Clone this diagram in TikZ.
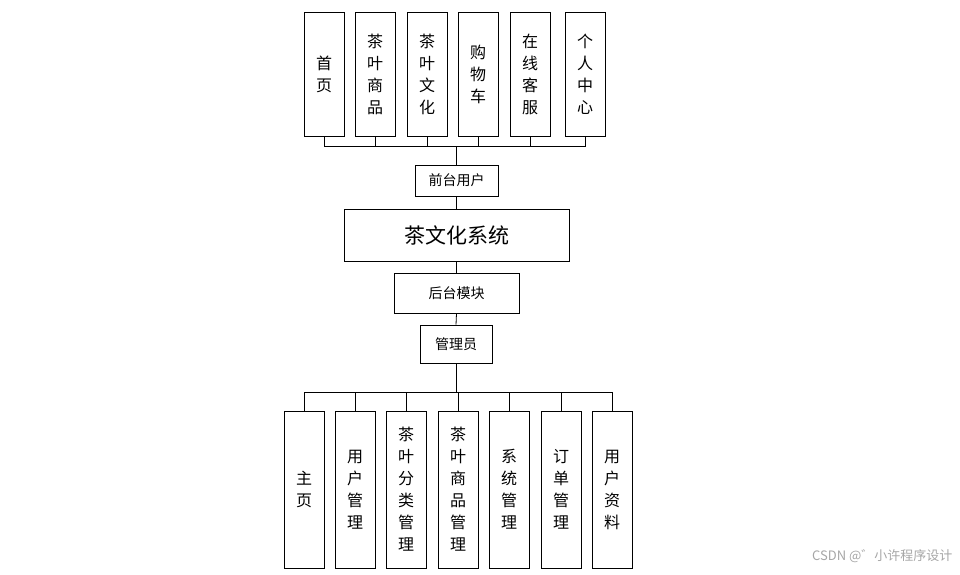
\documentclass[tikz,border=0pt]{standalone}
\usepackage{fontspec}
\newfontfamily\cjk{Noto Sans CJK SC}
\begin{document}
\begin{tikzpicture}[x=1pt,y=-1pt,
  box/.style={draw,line width=0.8pt,inner sep=0pt,font=\cjk\fontsize{16}{22}\selectfont,align=center},
  ln/.style={line width=0.8pt}]
\useasboundingbox (0,0) rectangle (960,574);
% top boxes
\foreach \n/\x/\t in {t1/324/首\\页, t2/375/茶\\叶\\商\\品, t3/427/茶\\叶\\文\\化, t4/478/购\\物\\车, t5/530/在\\线\\客\\服, t6/585/个\\人\\中\\心}{
  \node[box,minimum width=40pt,minimum height=124pt] (\n) at (\x,74) {\t};
}
\node[box,minimum width=83pt,minimum height=31pt,font=\cjk\fontsize{14}{16}\selectfont] (fu) at (456.5,180.5) {前台用户};
\node[box,minimum width=225pt,minimum height=52pt,font=\cjk\fontsize{21}{24}\selectfont] (sys) at (456.5,235) {茶文化系统};
\node[box,minimum width=125pt,minimum height=40pt,font=\cjk\fontsize{14}{16}\selectfont] (hm) at (456.5,293) {后台模块};
\node[box,minimum width=72pt,minimum height=38pt,font=\cjk\fontsize{14}{16}\selectfont] (ad) at (456,344) {管理员};
\foreach \n/\x/\t in {b1/304/主\\页, b2/355/用\\户\\管\\理, b3/406/茶\\叶\\分\\类\\管\\理, b4/458/茶\\叶\\商\\品\\管\\理, b5/509/系\\统\\管\\理, b6/561/订\\单\\管\\理, b7/612/用\\户\\资\\料}{
  \node[box,minimum width=40pt,minimum height=157pt] (\n) at (\x,489.5) {\t};
}
\coordinate (tbus) at (456.5,146);
\coordinate (bbus) at (456,392);
\draw[ln] (t1.south) |- (t6.south |- tbus) -- (t6.south);
\foreach \n in {t2,t3,t4,t5}{\draw[ln] (\n.south) -- (\n.south |- tbus);}
\draw[ln] (tbus) -- (fu.north);
\draw[ln] (fu.south) -- (sys.north);
\draw[ln] (sys.south) -- (hm.north);
\draw[ln] (hm.south) -- (ad.north);
\draw[ln] (ad.south) -- (bbus);
\draw[ln] (b1.north) |- (b7.north |- bbus) -- (b7.north);
\foreach \n in {b2,b3,b4,b5,b6}{\draw[ln] (\n.north) -- (\n.north |- bbus);}
\node[anchor=east,text=black!35,font=\cjk\fontsize{13}{15}\selectfont] (wm) at (956,556) {CSDN @゛小许程序设计};
\end{tikzpicture}
\end{document}
